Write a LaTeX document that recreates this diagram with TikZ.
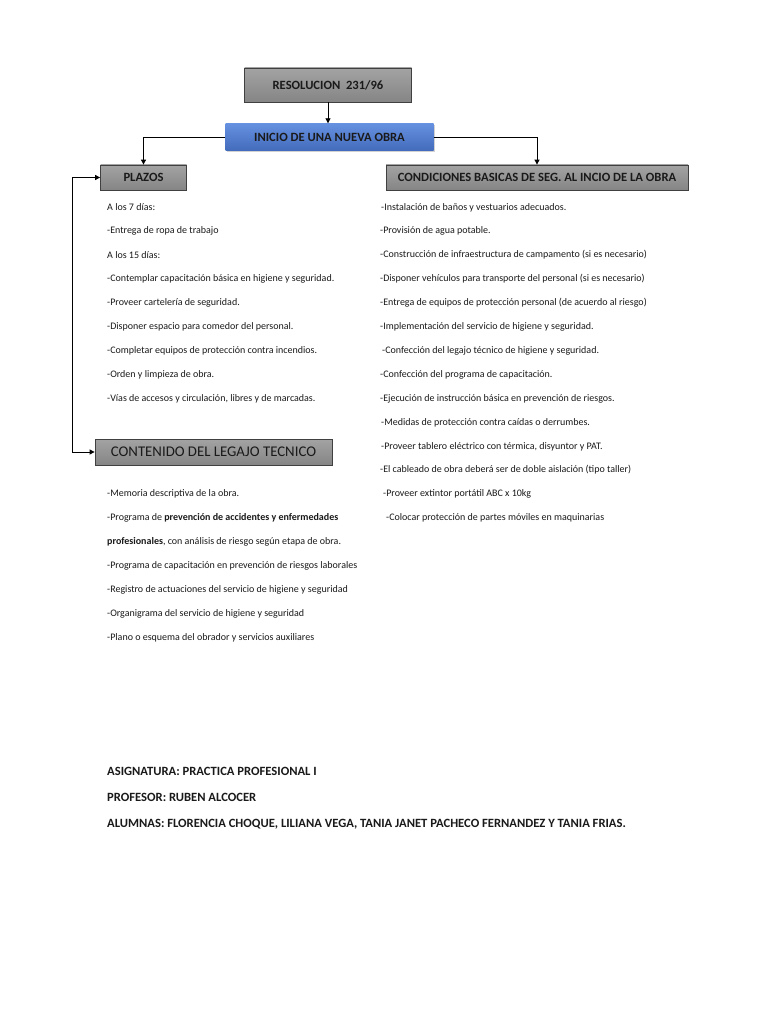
\documentclass[tikz,border=0pt]{standalone}
\usepackage{fontspec}
\setmainfont{Carlito}
\usetikzlibrary{arrows.meta,shadows}
\definecolor{boxgray}{HTML}{8C8C8C}
\definecolor{boxline}{HTML}{404040}
\definecolor{bluebox}{HTML}{4A78D0}
\definecolor{bluetop}{HTML}{6690E0}
\definecolor{txt}{HTML}{1A1A1A}
\tikzset{
  graybox/.style={draw=boxline, line width=0.8pt, top color=boxgray!80!white, bottom color=boxgray!95!black, inner sep=0pt, font=\fontsize{12.6}{14}\selectfont\bfseries, text=txt},
  bluenode/.style={draw=none, top color=bluetop, bottom color=bluebox!90!black, inner sep=0pt, font=\fontsize{12.6}{14}\selectfont\bfseries, text=txt, drop shadow={shadow xshift=1pt, shadow yshift=-2pt, opacity=0.35}},
  conn/.style={line width=0.9pt, draw=black},
  arr/.style={conn, -{Triangle[length=5pt,width=5pt]}},
  item/.style={anchor=west, inner sep=0pt, font=\fontsize{10}{12}\selectfont, text=txt},
  ritem/.style={anchor=west, inner sep=0pt, font=\fontsize{10}{12}\selectfont, text=txt},
  foot/.style={anchor=west, inner sep=0pt, font=\fontsize{12.6}{14}\selectfont\bfseries, text=txt}
}
\begin{document}
\begin{tikzpicture}[x=1pt,y=-1pt]
\useasboundingbox[fill=white] (0,0) rectangle (768,1024);
% boxes
\node[graybox, minimum width=167pt, minimum height=34pt] (res) at (328,85) {RESOLUCION\ \ 231/96};
\node[bluenode, minimum width=208pt, minimum height=27pt] (ini) at (329.5,137) {INICIO DE UNA NUEVA OBRA};
\node[graybox, minimum width=86pt, minimum height=25pt] (pla) at (143.5,177.5) {PLAZOS};
\node[graybox, minimum width=302pt, minimum height=25pt] (con) at (537,177.5) {CONDICIONES BASICAS DE SEG. AL INCIO DE LA OBRA};
\node[graybox, minimum width=237pt, minimum height=26pt, font=\fontsize{14.8}{16}\selectfont] (leg) at (213.5,452) {CONTENIDO DEL LEGAJO TECNICO};
% connectors
\draw[arr] (res.south) -- (res.south |- ini.north);
\draw[arr] (ini.west) -| (pla.north);
\draw[arr] (ini.east) -| (con.north);
\coordinate (lt) at (72,177.5);
\coordinate (lb) at (72,452);
\draw[arr] (lt) -- (pla.west);
\draw[arr] (lt) -- (lb) -- (leg.west);
% PLAZOS list
\node[item] (p1) at (107,207) {A los 7 días:};
\node[item] (p2) at (107,231) {-Entrega de ropa de trabajo};
\node[item] (p3) at (107,255) {A los 15 días:};
\node[item] (p4) at (107,279) {-Contemplar capacitación básica en higiene y seguridad.};
\node[item] (p5) at (107,303) {-Proveer cartelería de seguridad.};
\node[item] (p6) at (107,327) {-Disponer espacio para comedor del personal.};
\node[item] (p7) at (107,351) {-Completar equipos de protección contra incendios.};
\node[item] (p8) at (107,375) {-Orden y limpieza de obra.};
\node[item] (p9) at (107,399) {-Vías de accesos y circulación, libres y de marcadas.};
% CONDICIONES list
\node[ritem] (c1) at (381,208) {-Instalación de baños y vestuarios adecuados.};
\node[ritem] (c2) at (380,231) {-Provisión de agua potable.};
\node[ritem] (c3) at (380,255) {-Construcción de infraestructura de campamento (si es necesario)};
\node[ritem] (c4) at (380,279) {-Disponer vehículos para transporte del personal (si es necesario)};
\node[ritem] (c5) at (380,303) {-Entrega de equipos de protección personal (de acuerdo al riesgo)};
\node[ritem] (c6) at (380,327) {-Implementación del servicio de higiene y seguridad.};
\node[ritem] (c7) at (382,351) {-Confección del legajo técnico de higiene y seguridad.};
\node[ritem] (c8) at (380,375) {-Confección del programa de capacitación.};
\node[ritem] (c9) at (380,399) {-Ejecución de instrucción básica en prevención de riesgos.};
\node[ritem] (c10) at (381,423) {-Medidas de protección contra caídas o derrumbes.};
\node[ritem] (c11) at (381,447) {-Proveer tablero eléctrico con térmica, disyuntor y PAT.};
\node[ritem] (c12) at (380,470) {-El cableado de obra deberá ser de doble aislación (tipo taller)};
\node[ritem] (c13) at (383,494) {-Proveer extintor portátil ABC x 10kg};
\node[ritem] (c14) at (386,518) {-Colocar protección de partes móviles en maquinarias};
% LEGAJO list
\node[item] (l1) at (107,494) {-Memoria descriptiva de la obra.};
\node[item] (l2) at (107,518) {-Programa de \textbf{prevención de accidentes y enfermedades}};
\node[item] (l3) at (107,542) {\textbf{profesionales}, con análisis de riesgo según etapa de obra.};
\node[item] (l4) at (107,566) {-Programa de capacitación en prevención de riesgos laborales};
\node[item] (l5) at (107,590) {-Registro de actuaciones del servicio de higiene y seguridad};
\node[item] (l6) at (107,614) {-Organigrama del servicio de higiene y seguridad};
\node[item] (l7) at (107,638) {-Plano o esquema del obrador y servicios auxiliares};
% footer
\node[foot] (f1) at (107,771) {ASIGNATURA: PRACTICA PROFESIONAL I};
\node[foot] (f2) at (107,797) {PROFESOR: RUBEN ALCOCER};
\node[foot] (f3) at (107,824) {ALUMNAS: FLORENCIA CHOQUE, LILIANA VEGA, TANIA JANET PACHECO FERNANDEZ Y TANIA FRIAS.};
\end{tikzpicture}
\end{document}
